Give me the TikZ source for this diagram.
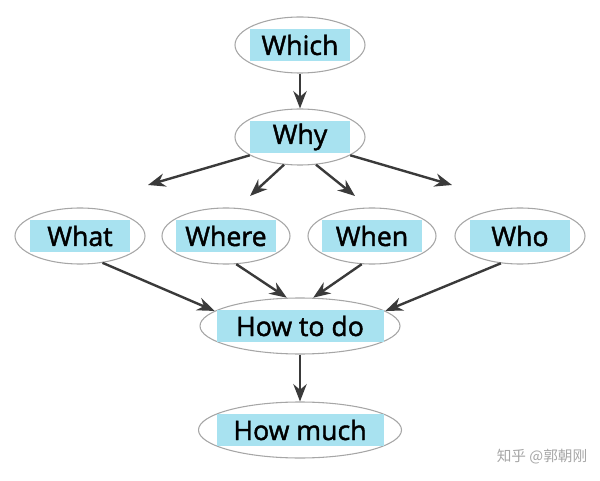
\documentclass[tikz,border=0pt]{standalone}
\usepackage{fontspec}
\setmainfont{Open Sans}[FakeBold=1.6]
\newfontfamily\cjk{Noto Sans CJK SC}
\usetikzlibrary{arrows.meta}
\definecolor{boxblue}{HTML}{A8E2F0}
\definecolor{ln}{HTML}{3A3A3A}
\tikzset{
  ell/.style={draw=gray!70, line width=0.8pt, fill=white, ellipse, minimum width=#1*0.75pt, minimum height=42pt, inner sep=0pt},
  lab/.style={fill=boxblue, font=\fontsize{20}{23}\selectfont, inner sep=0pt, minimum height=24pt, minimum width=#1*0.75pt},
  arr/.style={draw=ln, line width=1.8pt, -{Stealth[length=13pt,width=10pt]}}
}
\usetikzlibrary{shapes.geometric}
\begin{document}
\begin{tikzpicture}[x=0.75pt,y=-0.75pt]
\useasboundingbox (0,0) rectangle (600,481);
\foreach \n/\x/\y/\w/\r in {which/300/45/130/100, why/300/137/130/100, what/80/236/130/100, where/226/236/128/98, when/372/236/128/98, who/520/236/130/100, how/300/326/200/167, much/300/430/203/167}{
  \node[ell=\w] (\n) at (\x,\y) {};
}
\node[lab=100] (twhich) at (which) {Which};
\node[lab=100] (twhy) at (why) {Why};
\node[lab=100] (twhat) at (what) {What};
\node[lab=100] (twhere) at (where) {Where};
\node[lab=100] (twhen) at (when) {When};
\node[lab=100] (twho) at (who) {Who};
\node[lab=167] (thow) at (how) {How to do};
\node[lab=167] (tmuch) at (much) {How much};
\coordinate (e1) at (148,185);
\coordinate (e2) at (250,196);
\coordinate (e3) at (355,196);
\coordinate (e4) at (452,185);
\draw[arr] (which.south) -- (why.north);
\draw[arr] (why.200) -- (e1);
\draw[arr] (why.240) -- (e2);
\draw[arr] (why.300) -- (e3);
\draw[arr] (why.340) -- (e4);
\draw[arr] (what.310) -- (how.170);
\draw[arr] (where.290) -- (how.115);
\draw[arr] (when.250) -- (how.65);
\draw[arr] (who.235) -- (how.10);
\draw[arr] (how.south) -- (much.north);
\node[text=gray!70, font=\cjk\fontsize{11}{13}\selectfont, anchor=east] (wm) at (592,457) {知乎 @郭朝刚};
\end{tikzpicture}
\end{document}
